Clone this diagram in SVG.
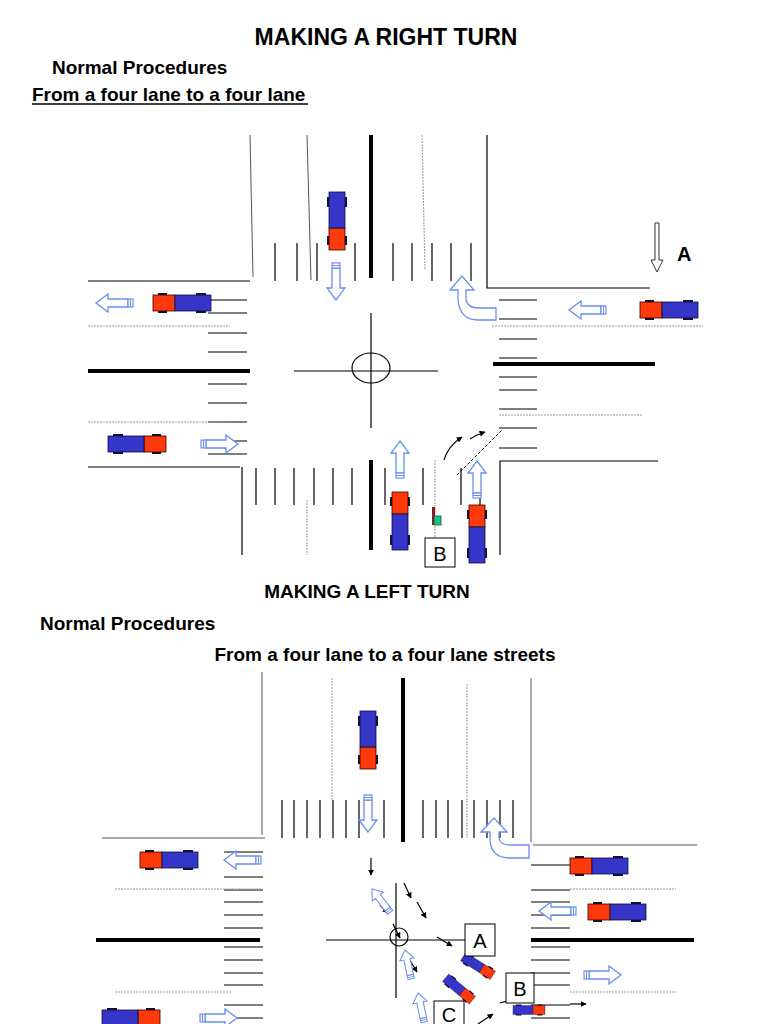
<svg xmlns="http://www.w3.org/2000/svg" width="768" height="1024" viewBox="0 0 768 1024">
<style>
.t{font-family:"Liberation Sans",Arial,sans-serif;font-weight:bold;fill:#000}
.l{stroke:#000;stroke-width:1.2;fill:none}
.g{stroke:#555;stroke-width:1;fill:none}
.th{stroke:#000;stroke-width:4;fill:none}
.d{stroke:#999;stroke-width:1;stroke-dasharray:2 1;fill:none}
.ar{fill:#fff;stroke:#6a8ef0;stroke-width:1.3}
.bx{fill:#fff;stroke:#000;stroke-width:1}
.bl{font-family:"Liberation Sans",Arial,sans-serif;font-size:20px}
.sm{stroke:#000;stroke-width:1.2;fill:none;marker-end:url(#ah)}
</style>
<defs>
<marker id="ah" viewBox="0 0 10 10" refX="9" refY="5" markerWidth="5" markerHeight="5" orient="auto"><path d="M0,0 L10,5 L0,10 Z" fill="#000"/></marker>
<g id="car">
<rect x="-24" y="-10" width="9" height="20" fill="#101040"/>
<rect x="14" y="-10" width="10" height="20" fill="#101040"/>
<rect x="-29" y="-8" width="22" height="16" fill="#ff3a0a" stroke="#300" stroke-width="0.8"/>
<rect x="-7" y="-8" width="36" height="16" fill="#3535c8" stroke="#101040" stroke-width="0.8"/>
</g>
<g id="arr">
<path class="ar" d="M0,0 L12,-9 L12,-4 L32,-4 L32,4 L12,4 L12,9 Z"/>
<rect x="32" y="-4" width="5" height="8" fill="#fff" stroke="#6a8ef0" stroke-width="1.2"/>
<line x1="34.5" y1="-4" x2="34.5" y2="4" stroke="#6a8ef0"/>
</g>
</defs>

<text class="t" x="386" y="45" font-size="23" text-anchor="middle">MAKING A RIGHT TURN</text>
<text class="t" x="52" y="74" font-size="19">Normal Procedures</text>
<text class="t" x="32" y="101" font-size="19">From a four lane to a four lane</text>
<line x1="32" y1="104" x2="308" y2="104" stroke="#000" stroke-width="1.5"/>

<g id="road1">
<line class="g" x1="250" y1="135" x2="253" y2="277"/>
<line class="g" x1="307" y1="135" x2="311" y2="280"/>
<line class="th" x1="371" y1="135" x2="371" y2="278"/>
<line class="d" x1="422" y1="135" x2="425" y2="270"/>
<polyline class="l" points="487,135 487,288 650,288"/>
<path class="l" d="M275,243V281M297,243V281M317,243V281M355,243V281M393,243V281M412,243V281M432,243V281M451,243V281M471,243V281"/>
<line class="l" x1="88" y1="281" x2="250" y2="281"/>
<path class="l" d="M208,300H247M208,313H247M208,333H247M208,352H247M208,384H247M208,403H247M208,422H247M208,441H247M208,454H247"/>
<line class="th" x1="88" y1="371" x2="250" y2="371"/>
<line class="d" x1="88" y1="326" x2="230" y2="326"/>
<line class="d" x1="88" y1="422" x2="230" y2="422"/>
<line class="l" x1="88" y1="467" x2="240" y2="467"/>
<line class="l" x1="242" y1="467" x2="242" y2="555"/>
<path class="l" d="M256,468V505M275,468V505M294,468V505M314,468V505M333,468V505M352,468V505M385,468V505M423,468V505M461,468V505M480,468V505"/>
<line class="th" x1="371" y1="460" x2="371" y2="550"/>
<line class="d" x1="307" y1="500" x2="307" y2="555"/>
<line class="d" x1="435" y1="460" x2="435" y2="538"/>
<polyline class="l" points="500,555 500,461 658,461"/>
<path class="l" d="M499,300H537M499,319H537M499,339H537M499,358H537M499,377H537M499,390H537M499,409H537M499,428H537M499,448H537"/>
<line class="th" x1="493" y1="364" x2="655" y2="364"/>
<line class="d" x1="492" y1="326" x2="703" y2="326"/>
<line class="d" x1="499" y1="415" x2="643" y2="415"/>
<line class="l" x1="294" y1="371" x2="438" y2="371"/>
<line class="l" x1="371" y1="313" x2="371" y2="428"/>
<ellipse class="l" cx="371" cy="368" rx="19" ry="15"/>
</g>

<g id="connectors1">
<line x1="457" y1="475" x2="502" y2="430" stroke="#000" stroke-dasharray="3 2"/>
<path class="sm" d="M444,460 Q448,446 462,437"/>
<path class="sm" d="M470,439 Q476,435 485,432"/>
</g>

<g id="cars1">
<use href="#car" transform="translate(337,221) rotate(-90)"/>
<use href="#car" transform="translate(182,303)"/>
<use href="#car" transform="translate(669,310)"/>
<use href="#car" transform="translate(137,444) rotate(180)"/>
<use href="#car" transform="translate(400,521) rotate(90)"/>
<use href="#car" transform="translate(477,534) rotate(90)"/>
</g>
<g id="arrows1">
<use href="#arr" transform="translate(96,303)"/>
<use href="#arr" transform="translate(569,310)"/>
<use href="#arr" transform="translate(238,444) rotate(180)"/>
<use href="#arr" transform="translate(336,300) rotate(-90)"/>
<use href="#arr" transform="translate(400,441) rotate(90)"/>
<use href="#arr" transform="translate(477,461) rotate(90)"/>
<path class="ar" d="M496,308 L496,320 L478,320 Q460,320 458,300 L458,290 L450,290 L462,276 L474,290 L466,290 L466,300 Q468,308 478,308 Z"/>
<path d="M655,223 L659,223 L659,260 L663,260 L657,272 L651,260 L655,260 Z" fill="#fff" stroke="#333"/>
</g>
<text class="t" x="677" y="261" font-size="20">A</text>
<g id="ped">
<rect x="432" y="507" width="3" height="18" fill="#8b1a1a"/>
<rect x="434" y="516" width="7" height="9" fill="#1fbf8f" stroke="#063" stroke-width="0.8"/>
</g>
<g id="boxB1"><rect class="bx" x="425" y="538" width="30" height="29"/><text class="bl" x="440" y="561" text-anchor="middle">B</text></g>

<text class="t" x="367" y="598" font-size="19" text-anchor="middle">MAKING A LEFT TURN</text>
<text class="t" x="40" y="630" font-size="19">Normal Procedures</text>
<text class="t" x="385" y="661" font-size="19" text-anchor="middle">From a four lane to a four lane streets</text>

<g id="road2">
<line class="g" x1="262" y1="672" x2="262" y2="835"/>
<line class="d" x1="332" y1="678" x2="332" y2="800"/>
<line class="th" x1="403" y1="678" x2="403" y2="842"/>
<line class="d" x1="467" y1="684" x2="467" y2="838"/>
<line class="g" x1="531" y1="678" x2="531" y2="842"/>
<path class="l" d="M282,800V838M294,800V838M307,800V838M320,800V838M333,800V838M346,800V838M359,800V838M384,800V838M423,800V838M436,800V838M448,800V838M462,800V838M474,800V838M487,800V838M500,800V838M513,800V838"/>
<line class="g" x1="102" y1="838" x2="265" y2="838"/>
<path class="l" d="M224,852H263M224,877H263M224,890H263M224,902H263M224,915H263M224,928H263M224,947H263M224,960H263M224,973H263M224,985H263M224,1005H263M224,1018H263"/>
<line class="th" x1="96" y1="940" x2="260" y2="940"/>
<line class="d" x1="115" y1="889" x2="262" y2="889"/>
<line class="d" x1="115" y1="992" x2="232" y2="992"/>
<line class="g" x1="533" y1="845" x2="697" y2="845"/>
<path class="l" d="M531,865H570M531,890H570M531,902H570M531,915H570M531,928H570M531,947H570M531,960H570M531,973H570M531,985H570M531,1005H570M531,1018H570"/>
<line class="th" x1="531" y1="940" x2="694" y2="940"/>
<line class="d" x1="570" y1="889" x2="676" y2="889"/>
<line class="d" x1="570" y1="992" x2="676" y2="992"/>
<line class="l" x1="326" y1="940" x2="466" y2="940"/>
<line class="l" x1="396" y1="883" x2="396" y2="998"/>
<circle class="l" cx="399" cy="937" r="9"/>
</g>

<g id="connectors2">
<line class="sm" x1="371" y1="858" x2="371" y2="875"/>
<line class="sm" x1="404" y1="883" x2="411" y2="898"/>
<line class="sm" x1="417" y1="902" x2="426" y2="918"/>
<line class="sm" x1="437" y1="937" x2="452" y2="946"/>
<line class="sm" x1="393" y1="924" x2="400" y2="938"/>
<line class="sm" x1="380" y1="905" x2="388" y2="913"/>
<line class="sm" x1="408" y1="957" x2="417" y2="972"/>
<line class="sm" x1="478" y1="1024" x2="493" y2="1014"/>
<line class="sm" x1="500" y1="1003" x2="518" y2="998"/>
<line class="sm" x1="570" y1="1004" x2="586" y2="1004"/>
</g>

<g id="cars2">
<use href="#car" transform="translate(368,740) rotate(-90)"/>
<use href="#car" transform="translate(169,860)"/>
<use href="#car" transform="translate(599,866)"/>
<use href="#car" transform="translate(617,912)"/>
<use href="#car" transform="translate(131,1018) rotate(180)"/>
<use href="#car" transform="translate(478,966) rotate(212) scale(0.6)"/>
<use href="#car" transform="translate(459,989) rotate(220) scale(0.6)"/>
<use href="#car" transform="translate(529,1010) rotate(180) scale(0.55)"/>
</g>
<g id="arrows2">
<use href="#arr" transform="translate(368,832) rotate(-90)"/>
<use href="#arr" transform="translate(224,860)"/>
<use href="#arr" transform="translate(539,911)"/>
<use href="#arr" transform="translate(621,975) rotate(180)"/>
<use href="#arr" transform="translate(237,1018) rotate(180)"/>
<use href="#arr" transform="translate(372,889) rotate(52) scale(0.8)"/>
<use href="#arr" transform="translate(405,950) rotate(78) scale(0.8)"/>
<use href="#arr" transform="translate(418,993) rotate(78) scale(0.8)"/>
<path class="ar" d="M529,845 L529,858 L510,858 Q490,858 490,838 L490,832 L481,832 L494,818 L507,832 L499,832 L499,838 Q500,845 510,845 Z"/>
</g>
<g id="boxA2"><rect class="bx" x="465" y="924" width="30" height="32"/><text class="bl" x="480" y="948" text-anchor="middle">A</text></g>
<g id="boxB2"><rect class="bx" x="506" y="973" width="28" height="30"/><text class="bl" x="520" y="996" text-anchor="middle">B</text></g>
<g id="boxC2"><rect class="bx" x="434" y="1001" width="30" height="29"/><text class="bl" x="449" y="1022" text-anchor="middle">C</text></g>
</svg>
